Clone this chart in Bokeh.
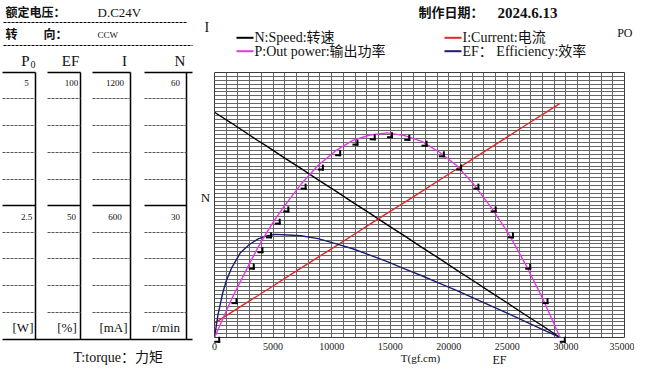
from bokeh.plotting import figure
from bokeh.models import Range1d, FixedTicker, ColumnDataSource
from bokeh.core.properties import value
from bokeh.transform import dodge
from bokeh.embed import file_html
from bokeh.resources import INLINE

# ---------------- data ----------------
torque = [0, 1475, 2950, 3688, 4425, 5163, 5900, 7375, 8850, 10325, 11800, 13275,
          14750, 16225, 17700, 19175, 20650, 22125, 23600, 25075, 26550, 28025, 29500]
speed = [51.0, 48.5, 45.9, 44.6, 43.4, 42.1, 40.8, 38.3, 35.7, 33.2, 30.6, 28.1,
         25.5, 23.0, 20.4, 17.9, 15.3, 12.8, 10.2, 7.7, 5.1, 2.6, 0.0]
current = [65, 115, 165, 189, 214, 239, 264, 314, 364, 413, 463, 513,
           563, 612, 662, 712, 762, 811, 861, 911, 961, 1010, 1060]
power = [0, 0.73, 1.38, 1.69, 1.97, 2.23, 2.46, 2.89, 3.25, 3.52, 3.72, 3.82,
         3.86, 3.81, 3.70, 3.50, 3.25, 2.89, 2.46, 1.97, 1.38, 0.73, 0]
eff_torque = [0, 300, 700, 1000, 1475, 2212, 2950, 3688, 4425, 5163, 5900, 7375, 8850,
              10325, 11800, 13275, 14750, 16225, 17700, 19175, 20650, 22125, 23600,
              25075, 26550, 28025, 29500]
efficiency = [0, 8.6, 16.8, 21.3, 26.4, 32.0, 35.0, 37.1, 38.3, 38.9, 38.8, 38.4, 37.3,
              35.4, 33.5, 31.1, 28.6, 25.9, 23.3, 20.5, 17.8, 14.9, 11.9,
              9.0, 6.0, 3.0, 0]
x_ticks = [0, 5000, 10000, 15000, 20000, 25000, 30000, 35000]
table_headers = ["EF", "I", "N"]
table_top = ["5", "100", "1200", "60"]
table_mid = ["2.5", "50", "600", "30"]
table_units = ["[W]", "[%]", "[mA]", "r/min"]
legend_texts = ["N:Speed:转速", "I:Current:电流", "P:Out power:输出功率", "EF： Efficiency:效率"]

# ---------------- styling ----------------
SERIF = "'Liberation Serif', 'Noto Sans CJK SC', serif"
RED = "#dc2a2a"
MAG = "#e03ae0"
NAVY = "#1c1c73"
W, H = 634, 365
FL, FR, FT, FB = 214, 624, 72, 337   # frame edges in canvas pixels

p = figure(width=W, height=H, x_range=Range1d(0, 35000), y_range=Range1d(0, 60),
           output_backend="svg", toolbar_location=None, y_axis_location=None,
           min_border_left=FL, min_border_right=W - FR,
           min_border_top=FT, min_border_bottom=H - FB)
p.outline_line_color = "#3a3a3a"
p.outline_line_width = 1
p.extra_x_ranges = {"px": Range1d(FL, FR)}
p.extra_y_ranges = {"I": Range1d(0, 1200), "P": Range1d(0, 5), "EF": Range1d(0, 100),
                    "py": Range1d(FB, FT)}

p.xgrid.ticker = FixedTicker(ticks=[i * 1000 for i in range(36)])
p.ygrid.ticker = FixedTicker(ticks=[i * 60 / 68 for i in range(69)])
p.grid.grid_line_color = "#666666"
p.grid.grid_line_alpha = 1
p.grid.grid_line_width = 1

xa = p.xaxis[0]
xa.ticker = FixedTicker(ticks=x_ticks)
xa.axis_line_color = None
xa.major_tick_line_color = None
xa.minor_tick_line_color = None
xa.major_tick_out = 0
xa.major_tick_in = 0
xa.major_label_standoff = 5
xa.major_label_text_font = SERIF
xa.major_label_text_font_size = "10px"
xa.major_label_text_color = "#222222"

src = ColumnDataSource(dict(T=torque, N=speed, I=current, P=power))
esrc = ColumnDataSource(dict(T=eff_torque, EF=efficiency))
p.line("T", "N", source=src, line_color="black", line_width=1.4)
p.line("T", "I", source=src, y_range_name="I", line_color=RED, line_width=1.4)
p.line("T", "EF", source=esrc, y_range_name="EF", line_color=NAVY, line_width=1.4)
p.line("T", "P", source=src, y_range_name="P", line_color=MAG, line_width=1.4)

# L-shaped data markers on the power series
pxT = 35000 / (FR - FL)
pxP = 5 / (FB - FT)
p.rect(x=dodge("T", 2.7 * pxT), y=dodge("P", -4.3 * pxP), width=6, height=2,
       width_units="screen", height_units="screen", source=src, y_range_name="P",
       fill_color="black", line_color=None, level="overlay")
p.rect(x=dodge("T", 4.7 * pxT), y=dodge("P", -2.3 * pxP), width=2, height=6,
       width_units="screen", height_units="screen", source=src, y_range_name="P",
       fill_color="black", line_color=None, level="overlay")


def segs(x0, y0, x1, y1, color="black", width=1.0, dash="solid"):
    p.segment(x0=x0, y0=y0, x1=x1, y1=y1, x_range_name="px", y_range_name="py",
              line_color=color, line_width=width, line_dash=dash, level="overlay")


def label(x, y, s, size, align="left", bold=False, color="#111111"):
    p.text(x=[x], y=[y], text=[s], x_range_name="px", y_range_name="py",
           text_font=value(SERIF), text_font_size=value(f"{size}px"),
           text_font_style=value("bold" if bold else "normal"),
           text_align=value(align), text_baseline=value("middle"),
           text_color=color, level="overlay")


# ---------------- left table ----------------
label(5, 12, "额定电压：", 12, bold=True)
label(97, 12, "D.C24V", 13)
segs([3], [22], [187], [22], dash="3 1")
label(5, 34, "转", 12, bold=True)
label(43, 34, "向：", 12, bold=True)
label(97, 34, "CCW", 9)
segs([3], [45], [192], [45], dash="3 1")

label(25, 60, "P", 15, align="center")
label(30, 64, "0", 10)
for cx, s in zip([70, 124, 179.5], table_headers):
    label(cx, 60, s, 15, align="center")

col_l = [2, 47, 92, 144]
col_r = [35, 80, 130, 186]
top_r = [35, 80, 130, 192]
segs(col_l, [72] * 4, top_r, [72] * 4, width=1.5)
segs(col_l, [205] * 4, col_r, [205] * 4, width=1.5)
segs(col_r, [72] * 4, col_r, [339] * 4, width=1.5)
segs([2], [339], [192], [339], width=1.5)
for ry in [98, 125, 152, 179, 232, 258, 285, 312]:
    segs(col_l, [ry] * 4, col_r, [ry] * 4, color="#555555", dash="3 1")

val_cx = [26, 71, 114.5, 175]
for cx, s in zip(val_cx, table_top):
    label(cx, 82.7, s, 9, align="center")
for cx, s in zip(val_cx, table_mid):
    label(cx, 216.5, s, 9, align="center")
for cx, s in zip([22.5, 66.5, 113, 165.5], table_units):
    label(cx, 327, s, 13, align="center")

label(73, 357, "T:torque：力矩", 14)

# ---------------- top texts and legend ----------------
label(418, 12, "制作日期：", 13, bold=True)
label(497, 12, "2024.6.13", 15, bold=True)
label(204, 27, "I", 14)
label(632, 32, "PO", 12, align="right")
label(205, 197, "N", 13, align="center")
label(420, 357, "T(gf.cm)", 11, align="center")
label(492, 359, "EF", 12)

leg_x = [236, 444, 236, 444]
leg_y = [37.3, 37.3, 50.7, 50.7]
leg_c = ["black", RED, MAG, NAVY]
for lx, ly, c, s in zip(leg_x, leg_y, leg_c, legend_texts):
    segs([lx], [ly], [lx + 17], [ly], color=c, width=2)
    label(lx + 18, ly, s, 14)

open("out.html", "w").write(file_html(p, INLINE, title="motor curve"))
